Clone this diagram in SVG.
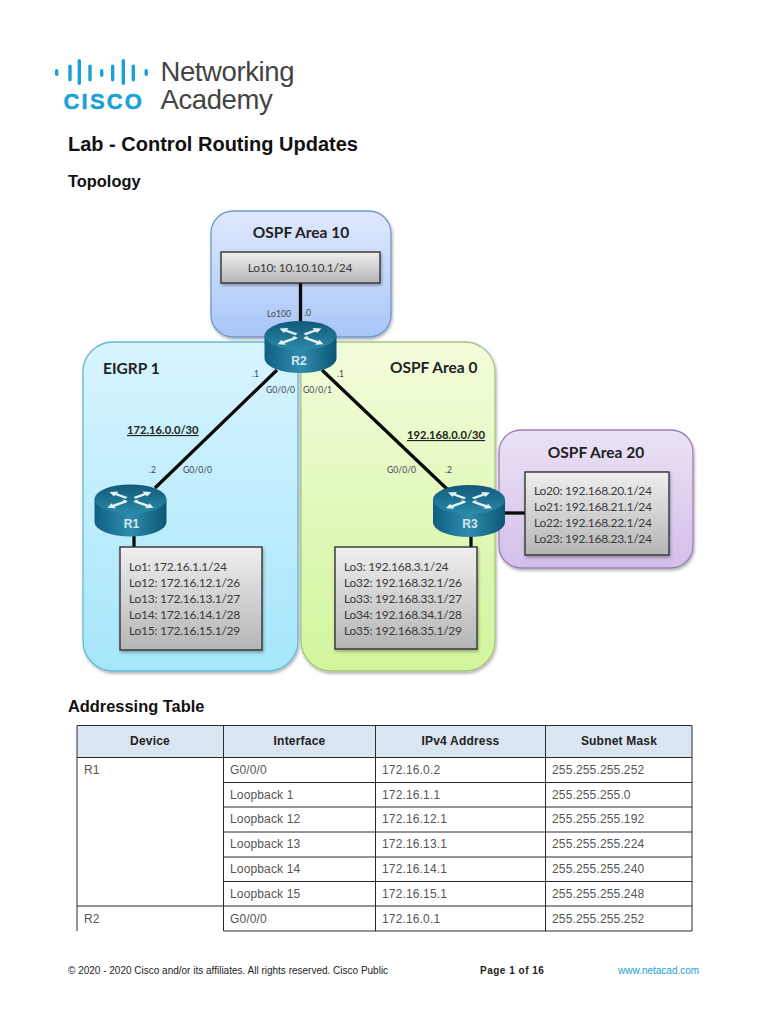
<svg xmlns="http://www.w3.org/2000/svg" width="768" height="1024" viewBox="0 0 768 1024">
<style>
text{font-family:"Liberation Sans",Arial,sans-serif}
.h{font-weight:bold;fill:#111}
.a{font-family:Lato,"Open Sans",sans-serif;font-weight:bold;font-size:15.5px;fill:#222}
.area{stroke-width:1.3}
.box{fill:url(#gb);stroke:#333;stroke-width:1.4;filter:url(#sh)}
.lo{font-family:Lato,"Open Sans",sans-serif;font-size:12px;letter-spacing:-.25px;fill:#3a3a3a}
.sm{font-family:Lato,"Open Sans",sans-serif;font-size:8.6px;fill:#445}
.net{font-family:Lato,"Open Sans",sans-serif;font-weight:bold;font-size:11.2px;fill:#222;text-decoration:underline}
.link{stroke:#0a0a0a;stroke-width:3.3;fill:none}
.tl{stroke:#2a2a2a;stroke-width:1;fill:none}
.th{font-size:12px;font-weight:bold;fill:#222;text-anchor:middle;letter-spacing:.2px}
.td{font-size:12px;fill:#555;letter-spacing:.15px}
.ft{font-size:10px;fill:#222}
.bar{fill:#1ba0d7}
.rt{font-family:"Liberation Sans",sans-serif;font-weight:bold;font-size:12px;fill:#d8e8ef;text-anchor:middle}
</style>
<defs>
<filter id="sh" x="-10%" y="-10%" width="120%" height="120%"><feDropShadow dx="1" dy="2" stdDeviation="1.5" flood-color="#000" flood-opacity=".3"/></filter>
<linearGradient id="g10" x1="0" y1="0" x2="0" y2="1"><stop offset="0" stop-color="#dfe9fd"/><stop offset="1" stop-color="#a9c6f8"/></linearGradient>
<linearGradient id="ge" x1="0" y1="0" x2="0" y2="1"><stop offset="0" stop-color="#d8f4fe"/><stop offset="1" stop-color="#a6e6fb"/></linearGradient>
<linearGradient id="g0" x1="0" y1="0" x2="0" y2="1"><stop offset="0" stop-color="#f2fcdc"/><stop offset="1" stop-color="#d2f59c"/></linearGradient>
<linearGradient id="g20" x1="0" y1="0" x2="0" y2="1"><stop offset="0" stop-color="#ebe2f5"/><stop offset="1" stop-color="#d3bfe9"/></linearGradient>
<linearGradient id="gb" x1="0" y1="0" x2="0" y2="1"><stop offset="0" stop-color="#efefef"/><stop offset="1" stop-color="#b5b5b5"/></linearGradient>
<linearGradient id="gr" x1="0" y1="0" x2="1" y2="0"><stop offset="0" stop-color="#0f5f80"/><stop offset=".5" stop-color="#2f8cae"/><stop offset="1" stop-color="#0d5675"/></linearGradient>
<linearGradient id="gt" x1="0" y1="0" x2="0" y2="1"><stop offset="0" stop-color="#12597a"/><stop offset="1" stop-color="#2a8aa8"/></linearGradient>
<g id="router">
<path d="M-36,-11.500V11.500A36,14.500 0 0 0 36,11.500V-11.500Z" fill="url(#gr)"/>
<ellipse cx="0" cy="-11.500" rx="36" ry="14.500" fill="url(#gt)"/>
<g fill="#e6f1f5">
<path d="M-21,-18.500L-12,-19L-13.500,-17.300L-3,-13.500L-5,-11.800L-15.500,-15.600L-16.500,-14Z"/>
<path d="M21,-18.500L12,-19L13.500,-17.300L3,-13.500L5,-11.800L15.500,-15.600L16.500,-14Z"/>
<path d="M-4,-10L-3,-8.800L-5,-7.800L-16,-3.800L-14.500,-2.200L-23,-2.800L-19,-7.200L-18,-5.800L-7,-9.600L-8,-11Z"/>
<path d="M4,-10L3,-8.800L5,-7.800L16,-3.800L14.500,-2.200L23,-2.800L19,-7.200L18,-5.800L7,-9.600L8,-11Z"/>
</g>
</g>
</defs>
<rect width="768" height="1024" fill="#fff"/>
<g id="logo">
<g class="bar"><rect x="55" y="69" width="3.400" height="7" rx="1.700"/><rect x="68.300" y="64.500" width="3.400" height="17" rx="1.700"/><rect x="77.600" y="59" width="3.400" height="26" rx="1.700"/><rect x="88.300" y="64.500" width="3.400" height="17" rx="1.700"/><rect x="100" y="69" width="3.400" height="8" rx="1.700"/><rect x="111" y="64.500" width="3.400" height="17" rx="1.700"/><rect x="121.600" y="59" width="3.400" height="26" rx="1.700"/><rect x="131.600" y="64.500" width="3.400" height="17" rx="1.700"/><rect x="144.500" y="69" width="3.400" height="7" rx="1.700"/></g>
<text x="63.500" y="108.500" font-size="22" font-weight="bold" fill="#1ba0d7" stroke="#1ba0d7" stroke-width=".5" letter-spacing="2.200">CISCO</text>
<text font-size="27.500" fill="#444" letter-spacing="-.4"><tspan x="160.500" y="81">Networking</tspan><tspan x="160.500" y="109">Academy</tspan></text>
</g>
<text class="h" x="68" y="151" font-size="20">Lab - Control Routing Updates</text>
<text class="h" x="68" y="187" font-size="16.400">Topology</text>
<g id="area-10"><rect class="area" x="211" y="211" width="180" height="126" rx="22" fill="url(#g10)" stroke="#6f98cf" filter="url(#sh)"/><text class="a" x="301" y="238" text-anchor="middle">OSPF Area 10</text></g>
<g id="area-eigrp"><rect class="area" x="83" y="342" width="215" height="329" rx="30" fill="url(#ge)" stroke="#65b9d3" filter="url(#sh)"/><text class="a" x="103" y="374">EIGRP 1</text></g>
<g id="area-0"><rect class="area" x="301" y="342" width="194" height="329" rx="30" fill="url(#g0)" stroke="#a8c57e" filter="url(#sh)"/><text class="a" x="390" y="373">OSPF Area 0</text></g>
<g id="area-20"><rect class="area" x="499" y="430" width="194" height="138" rx="22" fill="url(#g20)" stroke="#9a80b8" filter="url(#sh)"/><text class="a" x="596" y="458" text-anchor="middle">OSPF Area 20</text></g>
<g id="connectors">
<path class="link" d="M300.500,283V326"/>
<path class="link" d="M277,370L155,488"/>
<path class="link" d="M322,370L447,489"/>
<path class="link" d="M134,535V548"/>
<path class="link" d="M471,535V548"/>
<path class="link" d="M504,513H526"/>
</g>
<g id="box-lo10"><rect class="box" x="221" y="252" width="159" height="31"/><text class="lo" x="300" y="272" text-anchor="middle">Lo10: 10.10.10.1/24</text></g>
<g id="box-r1"><rect class="box" x="120" y="547" width="142" height="103"/>
<text class="lo" x="129" y="571">Lo1: 172.16.1.1/24</text><text class="lo" x="129" y="587">Lo12: 172.16.12.1/26</text><text class="lo" x="129" y="603">Lo13: 172.16.13.1/27</text><text class="lo" x="129" y="619">Lo14: 172.16.14.1/28</text><text class="lo" x="129" y="635">Lo15: 172.16.15.1/29</text></g>
<g id="box-r3"><rect class="box" x="335" y="547" width="142" height="102"/>
<text class="lo" x="344" y="571">Lo3: 192.168.3.1/24</text><text class="lo" x="344" y="587">Lo32: 192.168.32.1/26</text><text class="lo" x="344" y="603">Lo33: 192.168.33.1/27</text><text class="lo" x="344" y="619">Lo34: 192.168.34.1/28</text><text class="lo" x="344" y="635">Lo35: 192.168.35.1/29</text></g>
<g id="box-area20"><rect class="box" x="525" y="472" width="144" height="83"/>
<text class="lo" x="534" y="495">Lo20: 192.168.20.1/24</text><text class="lo" x="534" y="511">Lo21: 192.168.21.1/24</text><text class="lo" x="534" y="527">Lo22: 192.168.22.1/24</text><text class="lo" x="534" y="543">Lo23: 192.168.23.1/24</text></g>
<g id="R2"><use href="#router" x="300.500" y="347"/><text class="rt" x="299" y="365">R2</text></g>
<g id="R1"><use href="#router" x="130.500" y="510.500"/><text class="rt" x="131.500" y="528">R1</text></g>
<g id="R3"><use href="#router" x="469" y="511"/><text class="rt" x="470" y="528">R3</text></g>
<g id="labels">
<text class="sm" x="267" y="317">Lo100</text><text class="sm" x="304" y="316">.0</text>
<text class="sm" x="252" y="377">.1</text><text class="sm" x="337" y="377">.1</text>
<text class="sm" x="266" y="393">G0/0/0</text><text class="sm" x="303" y="393">G0/0/1</text>
<text class="sm" x="149" y="473">.2</text><text class="sm" x="183" y="473">G0/0/0</text>
<text class="sm" x="387" y="473">G0/0/0</text><text class="sm" x="445" y="473">.2</text>
<text class="net" x="127" y="434">172.16.0.0/30</text><text class="net" x="407" y="439">192.168.0.0/30</text>
</g>
<text class="h" x="68" y="712" font-size="16.400">Addressing Table</text>
<g id="table">
<rect x="77" y="725.500" width="615" height="32" fill="#dbe5f1"/>
<path class="tl" d="M77,725.500H692M77,757.500H692M223.500,782.500H692M223.500,807H692M223.500,832H692M223.500,857H692M223.500,881.500H692M77,906H692M223.500,931H692M77,725.500V931M223.500,725.500V931M375.500,725.500V931M545.500,725.500V931M692,725.500V931"/>
<text class="th" x="150" y="745">Device</text><text class="th" x="299.500" y="745">Interface</text><text class="th" x="460.500" y="745">IPv4 Address</text><text class="th" x="619" y="745">Subnet Mask</text>
<text class="td" x="84" y="774">R1</text><text class="td" x="230" y="774">G0/0/0</text><text class="td" x="382" y="774">172.16.0.2</text><text class="td" x="552" y="774">255.255.255.252</text>
<text class="td" x="230" y="799">Loopback 1</text><text class="td" x="382" y="799">172.16.1.1</text><text class="td" x="552" y="799">255.255.255.0</text>
<text class="td" x="230" y="823">Loopback 12</text><text class="td" x="382" y="823">172.16.12.1</text><text class="td" x="552" y="823">255.255.255.192</text>
<text class="td" x="230" y="848">Loopback 13</text><text class="td" x="382" y="848">172.16.13.1</text><text class="td" x="552" y="848">255.255.255.224</text>
<text class="td" x="230" y="873">Loopback 14</text><text class="td" x="382" y="873">172.16.14.1</text><text class="td" x="552" y="873">255.255.255.240</text>
<text class="td" x="230" y="898">Loopback 15</text><text class="td" x="382" y="898">172.16.15.1</text><text class="td" x="552" y="898">255.255.255.248</text>
<text class="td" x="84" y="923">R2</text><text class="td" x="230" y="923">G0/0/0</text><text class="td" x="382" y="923">172.16.0.1</text><text class="td" x="552" y="923">255.255.255.252</text>
</g>
<g id="footer">
<text class="ft" x="68" y="974">© 2020 - 2020 Cisco and/or its affiliates. All rights reserved. Cisco Public</text>
<text class="ft" x="480" y="974" font-weight="bold" letter-spacing=".5">Page 1 of 16</text>
<text class="ft" x="618" y="974" style="fill:#1ba0d7">www.netacad.com</text>
</g>
</svg>
